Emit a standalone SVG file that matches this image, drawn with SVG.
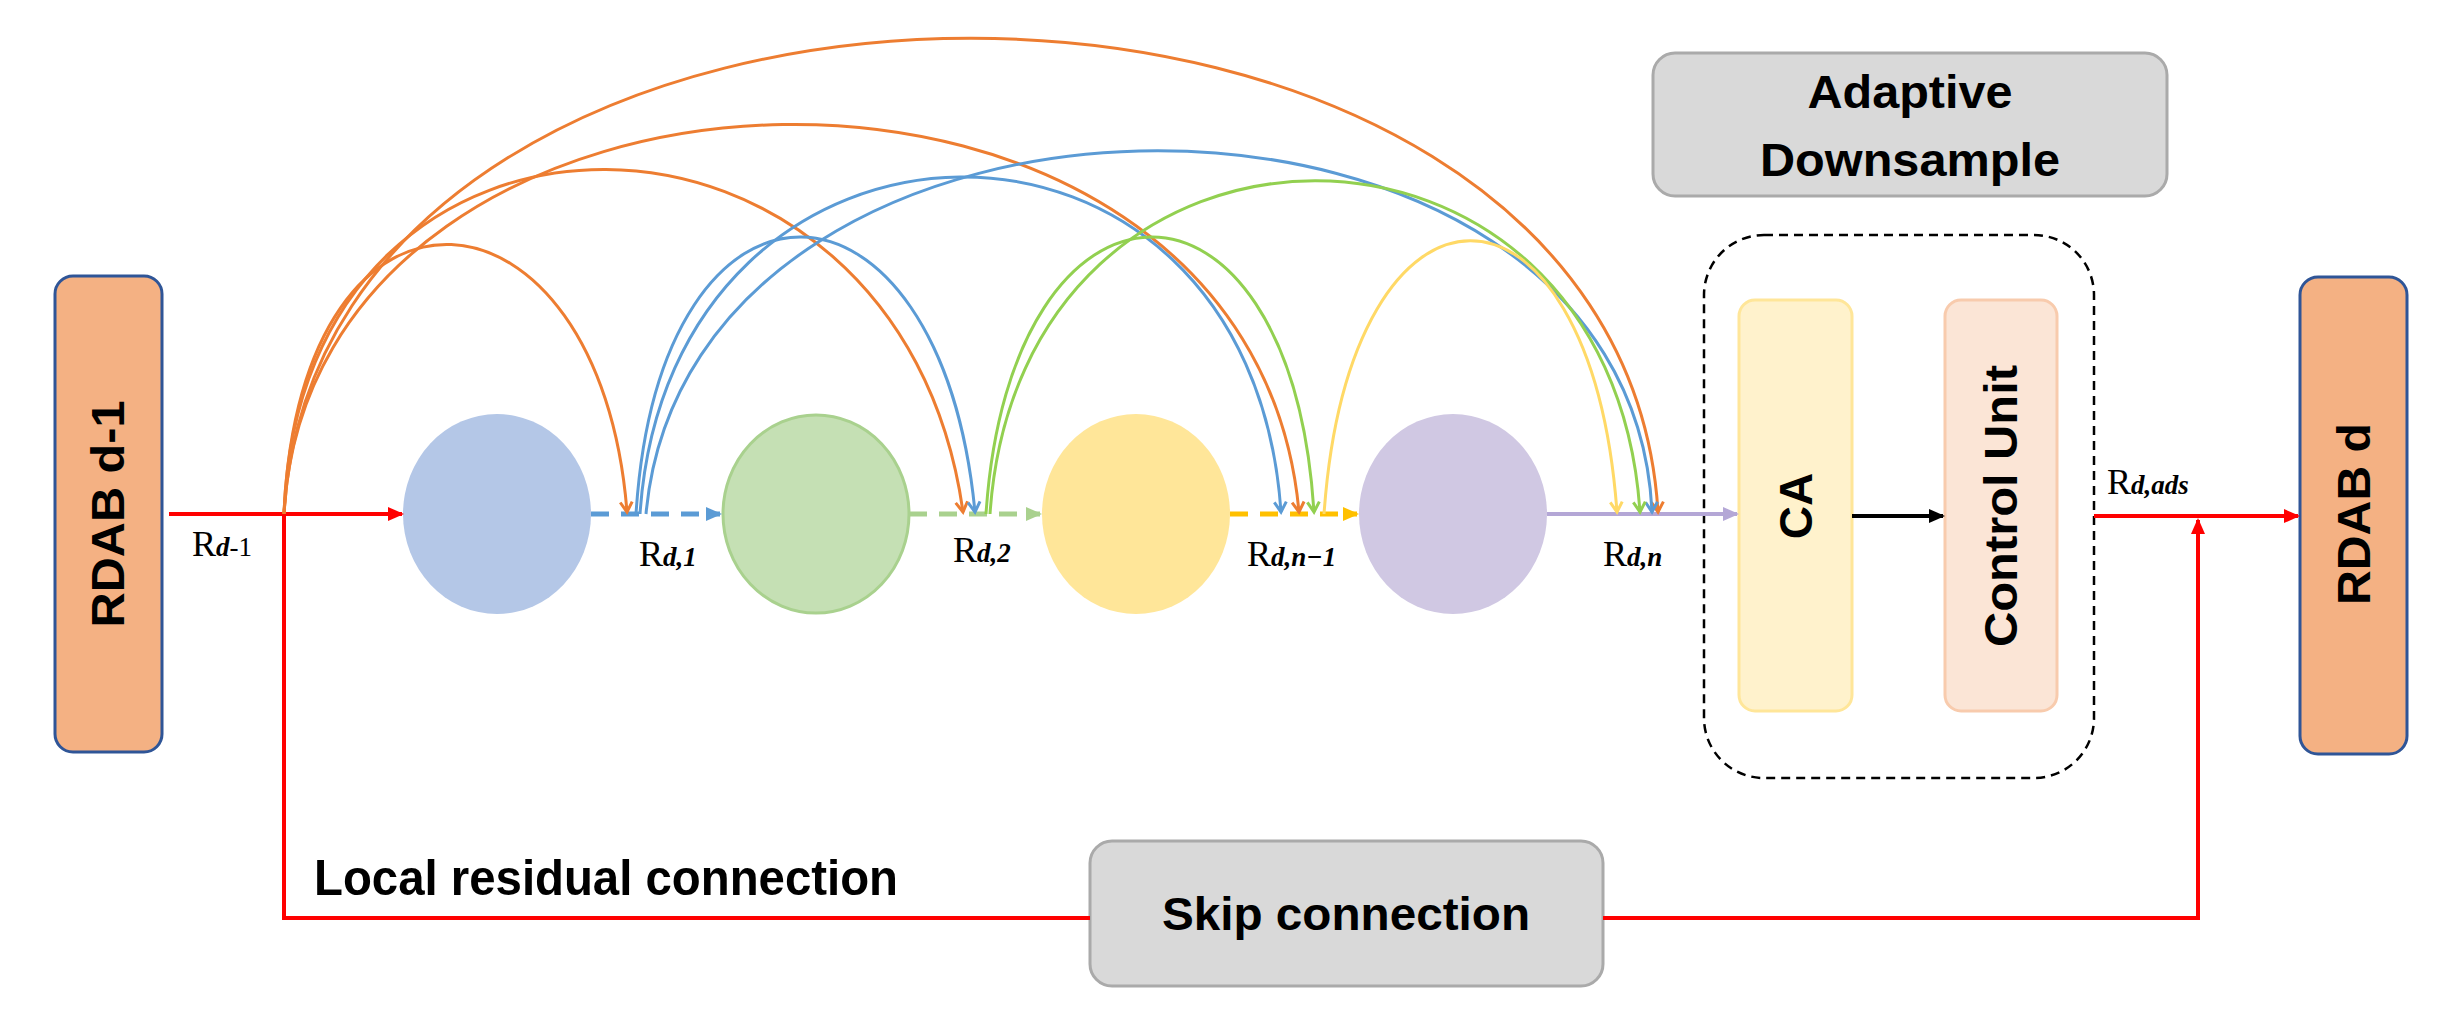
<svg xmlns="http://www.w3.org/2000/svg" width="2457" height="1017" viewBox="0 0 2457 1017">
<style>
.t{font-family:"Liberation Sans",Arial,sans-serif;font-weight:bold;fill:#000}
.r{font-family:"Liberation Serif","DejaVu Serif",serif;fill:#000;font-size:36px}
.s{font-style:italic;font-weight:bold;font-size:27px}
.arc{fill:none;stroke-width:3}
</style>
<defs>
<marker id="vo" markerWidth="16" markerHeight="16" refX="12" refY="8" orient="auto" markerUnits="userSpaceOnUse"><path d="M2,2 L12,8 L2,14" fill="none" stroke="#ed7d31" stroke-width="3"/></marker>
<marker id="vb" markerWidth="16" markerHeight="16" refX="12" refY="8" orient="auto" markerUnits="userSpaceOnUse"><path d="M2,2 L12,8 L2,14" fill="none" stroke="#5b9bd5" stroke-width="3"/></marker>
<marker id="vg" markerWidth="16" markerHeight="16" refX="12" refY="8" orient="auto" markerUnits="userSpaceOnUse"><path d="M2,2 L12,8 L2,14" fill="none" stroke="#92d050" stroke-width="3"/></marker>
<marker id="vy" markerWidth="16" markerHeight="16" refX="12" refY="8" orient="auto" markerUnits="userSpaceOnUse"><path d="M2,2 L12,8 L2,14" fill="none" stroke="#ffd966" stroke-width="3"/></marker>
<marker id="fr" markerWidth="16" markerHeight="16" refX="14" refY="8" orient="auto" markerUnits="userSpaceOnUse"><path d="M0,1 L16,8 L0,15Z" fill="#ff0000"/></marker>
<marker id="fk" markerWidth="16" markerHeight="16" refX="14" refY="8" orient="auto" markerUnits="userSpaceOnUse"><path d="M0,1 L16,8 L0,15Z" fill="#000"/></marker>
<marker id="fb" markerWidth="16" markerHeight="16" refX="14" refY="8" orient="auto" markerUnits="userSpaceOnUse"><path d="M0,1 L16,8 L0,15Z" fill="#5b9bd5"/></marker>
<marker id="fg" markerWidth="16" markerHeight="16" refX="14" refY="8" orient="auto" markerUnits="userSpaceOnUse"><path d="M0,1 L16,8 L0,15Z" fill="#a9d18e"/></marker>
<marker id="fy" markerWidth="16" markerHeight="16" refX="14" refY="8" orient="auto" markerUnits="userSpaceOnUse"><path d="M0,1 L16,8 L0,15Z" fill="#ffc000"/></marker>
<marker id="fp" markerWidth="16" markerHeight="16" refX="14" refY="8" orient="auto" markerUnits="userSpaceOnUse"><path d="M0,1 L16,8 L0,15Z" fill="#b4a7d6"/></marker>
</defs>
<rect width="2457" height="1017" fill="#fff"/>

<g id="rdab-d-1"><rect x="55" y="276" width="107" height="476" rx="18" fill="#f4b183" stroke="#2f5597" stroke-width="3"/>
<text class="t" font-size="46" transform="translate(124,514) rotate(-90)" text-anchor="middle" textLength="227" lengthAdjust="spacingAndGlyphs">RDAB  d-1</text></g>
<g id="rdab-d"><rect x="2300" y="277" width="107" height="477" rx="18" fill="#f4b183" stroke="#2f5597" stroke-width="3"/>
<text class="t" font-size="46" transform="translate(2370,514) rotate(-90)" text-anchor="middle" textLength="182" lengthAdjust="spacingAndGlyphs">RDAB  d</text></g>
<g id="n1"><ellipse cx="497" cy="514" rx="94" ry="100" fill="#b4c7e7"/></g>
<g id="n2"><ellipse cx="816" cy="514" rx="93" ry="99" fill="#c5e0b4" stroke="#a9d18e" stroke-width="3"/></g>
<g id="n3"><ellipse cx="1136" cy="514" rx="94" ry="100" fill="#ffe699"/></g>
<g id="n4"><ellipse cx="1453" cy="514" rx="94" ry="100" fill="#d0c8e3"/></g>
<g id="adaptive"><rect x="1653" y="53" width="514" height="143" rx="22" fill="#d9d9d9" stroke="#aaaaaa" stroke-width="3"/>
<text class="t" font-size="46" x="1910" y="108" text-anchor="middle" textLength="205" lengthAdjust="spacingAndGlyphs">Adaptive</text>
<text class="t" font-size="46" x="1910" y="176" text-anchor="middle" textLength="300" lengthAdjust="spacingAndGlyphs">Downsample</text></g>
<g id="dsbox"><rect x="1704" y="235" width="390" height="543" rx="60" fill="none" stroke="#000" stroke-width="2.5" stroke-dasharray="9,6"/></g>
<g id="ca"><rect x="1739" y="300" width="113" height="411" rx="16" fill="#fff2cc" stroke="#ffe699" stroke-width="3"/>
<text class="t" font-size="46" transform="translate(1812,506) rotate(-90)" text-anchor="middle">CA</text></g>
<g id="cu"><rect x="1945" y="300" width="112" height="411" rx="16" fill="#fbe5d6" stroke="#f8cbad" stroke-width="3"/>
<text class="t" font-size="46" transform="translate(2017,506) rotate(-90)" text-anchor="middle" textLength="282" lengthAdjust="spacingAndGlyphs">Control Unit</text></g>
<g id="skip"><rect x="1090" y="841" width="513" height="145" rx="22" fill="#d9d9d9" stroke="#aaaaaa" stroke-width="3"/>
<text class="t" font-size="46" x="1346" y="930" text-anchor="middle" textLength="368" lengthAdjust="spacingAndGlyphs">Skip connection</text></g>

<g id="connectors">
<path d="M169,514 H402" stroke="#ff0000" stroke-width="4" fill="none" marker-end="url(#fr)"/>
<path d="M284,514 V918 H1090" stroke="#ff0000" stroke-width="4" fill="none"/>
<path d="M1603,918 H2198 V520" stroke="#ff0000" stroke-width="4" fill="none" marker-end="url(#fr)"/>
<path d="M2094,516 H2298" stroke="#ff0000" stroke-width="4" fill="none" marker-end="url(#fr)"/>
<path d="M1852,516 H1943" stroke="#000" stroke-width="4" fill="none" marker-end="url(#fk)"/>
<path d="M591,514 H720" stroke="#5b9bd5" stroke-width="5" stroke-dasharray="18,12" fill="none" marker-end="url(#fb)"/>
<path d="M909,514 H1040" stroke="#a9d18e" stroke-width="5" stroke-dasharray="18,12" fill="none" marker-end="url(#fg)"/>
<path d="M1230,514 H1357" stroke="#ffc000" stroke-width="5" stroke-dasharray="18,12" fill="none" marker-end="url(#fy)"/>
<path d="M1547,514 H1737" stroke="#b4a7d6" stroke-width="4" fill="none" marker-end="url(#fp)"/>
<path class="arc" stroke="#ed7d31" d="M284,514 C300,140 600,170 627,512" marker-end="url(#vo)"/>
<path class="arc" stroke="#ed7d31" d="M284,514 C300,50 900,60 963,512" marker-end="url(#vo)"/>
<path class="arc" stroke="#ed7d31" d="M284,514 C310,10 1250,-20 1299,512" marker-end="url(#vo)"/>
<path class="arc" stroke="#ed7d31" d="M284,514 C320,-120 1620,-120 1658,512" marker-end="url(#vo)"/>
<path class="arc" stroke="#5b9bd5" d="M636,514 C660,140 940,150 975,512" marker-end="url(#vb)"/>
<path class="arc" stroke="#5b9bd5" d="M640,514 C670,70 1250,60 1281,512" marker-end="url(#vb)"/>
<path class="arc" stroke="#5b9bd5" d="M646,514 C690,30 1630,30 1652,512" marker-end="url(#vb)"/>
<path class="arc" stroke="#92d050" d="M986,514 C1010,150 1290,140 1314,512" marker-end="url(#vg)"/>
<path class="arc" stroke="#92d050" d="M990,514 C1020,70 1610,70 1640,512" marker-end="url(#vg)"/>
<path class="arc" stroke="#ffd966" d="M1324,514 C1350,150 1590,150 1617,512" marker-end="url(#vy)"/>
</g>

<text class="r" x="192" y="556">R<tspan class="s">d</tspan><tspan font-size="27">-1</tspan></text>
<text class="r" x="639" y="566">R<tspan class="s">d,1</tspan></text>
<text class="r" x="953" y="562">R<tspan class="s">d,2</tspan></text>
<text class="r" x="1247" y="566">R<tspan class="s">d,n−1</tspan></text>
<text class="r" x="1603" y="566">R<tspan class="s">d,n</tspan></text>
<text class="r" x="2107" y="494">R<tspan class="s">d,ads</tspan></text>
<text class="t" font-size="50" x="314" y="895" textLength="584" lengthAdjust="spacingAndGlyphs">Local residual connection</text>
</svg>
